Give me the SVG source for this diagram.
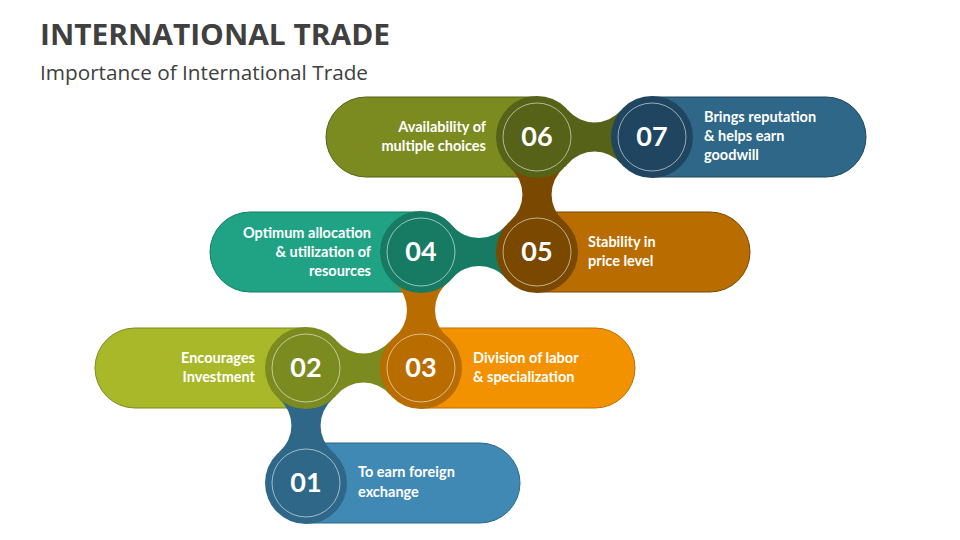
<svg xmlns="http://www.w3.org/2000/svg" width="960" height="540" viewBox="0 0 960 540">
<style>
.title{font-family:"Open Sans","Liberation Sans",sans-serif;font-weight:700;font-size:29px;fill:#404040}
.sub{font-family:"Open Sans","Liberation Sans",sans-serif;font-size:20px;fill:#404040}
.lbl{font-family:Lato,"Open Sans",sans-serif;font-weight:700;font-size:14.5px;fill:#ffffff}
.num{font-family:Lato,"Open Sans",sans-serif;font-weight:700;font-size:27px;fill:#ffffff;text-anchor:middle}
.ring{fill:none;stroke:#ffffff;stroke-opacity:0.55;stroke-width:1}
.r{text-anchor:end}
</style>
<rect width="960" height="540" fill="#ffffff"/>
<text class="title" x="40" y="45" textLength="350" lengthAdjust="spacingAndGlyphs">INTERNATIONAL TRADE</text>
<text class="sub" x="40" y="80" textLength="328" lengthAdjust="spacingAndGlyphs">Importance of International Trade</text>

<g id="pills">
<path id="pill01" d="M306,443 H480 A40,40 0 0 1 480,523 H306 Z" fill="#4089b5" stroke="#2e6787"/>
<path id="pill02" d="M306,328 H135 A40,40 0 0 0 135,408 H306 Z" fill="#a9b828" stroke="#7b8b1f"/>
<path id="pill03" d="M421,328 H595 A40,40 0 0 1 595,408 H421 Z" fill="#f39200" stroke="#b96c00"/>
<path id="pill04" d="M421,212 H250 A40,40 0 0 0 250,292 H421 Z" fill="#1fa384" stroke="#177b64"/>
<path id="pill05" d="M537,212 H710 A40,40 0 0 1 710,292 H537 Z" fill="#b96c00" stroke="#7b4800"/>
<path id="pill06" d="M537,97 H366 A40,40 0 0 0 366,177 H537 Z" fill="#7b8b1f" stroke="#566217"/>
<path id="pill07" d="M652,97 H826 A40,40 0 0 1 826,177 H652 Z" fill="#2e6787" stroke="#1f4560"/>
</g>

<g id="connectors">
<path d="M279.3,452 A35,35 0 0 0 279.3,399 L332.7,399 A35,35 0 0 0 332.7,452 Z" fill="#2e6787"/>
<path d="M337,341.3 A35,35 0 0 0 390,341.3 L390,394.7 A35,35 0 0 0 337,394.7 Z" fill="#7b8b1f"/>
<path d="M394.3,337 A35,35 0 0 0 394.3,283 L447.7,283 A35,35 0 0 0 447.7,337 Z" fill="#b96c00"/>
<path d="M452,225.3 A35,35 0 0 0 506,225.3 L506,278.7 A35,35 0 0 0 452,278.7 Z" fill="#177b64"/>
<path d="M510.3,221 A35,35 0 0 0 510.3,168 L563.7,168 A35,35 0 0 0 563.7,221 Z" fill="#7b4800"/>
<path d="M568,110.3 A35,35 0 0 0 621,110.3 L621,163.7 A35,35 0 0 0 568,163.7 Z" fill="#566217"/>
</g>

<g id="node01">
<circle cx="306" cy="483" r="41" fill="#2e6787"/>
<circle class="ring" cx="306" cy="483" r="34"/>
<text class="num" x="306" y="492">01</text>
<text class="lbl" x="358" y="477">To earn foreign</text>
<text class="lbl" x="358" y="497">exchange</text>
</g>
<g id="node02">
<circle cx="306" cy="368" r="41" fill="#7b8b1f"/>
<circle class="ring" cx="306" cy="368" r="34"/>
<text class="num" x="306" y="377">02</text>
<text class="lbl r" x="255" y="363">Encourages</text>
<text class="lbl r" x="255" y="382">Investment</text>
</g>
<g id="node03">
<circle cx="421" cy="368" r="41" fill="#b96c00"/>
<circle class="ring" cx="421" cy="368" r="34"/>
<text class="num" x="421" y="377">03</text>
<text class="lbl" x="473" y="363">Division of labor</text>
<text class="lbl" x="473" y="382">&amp; specialization</text>
</g>
<g id="node04">
<circle cx="421" cy="252" r="41" fill="#177b64"/>
<circle class="ring" cx="421" cy="252" r="34"/>
<text class="num" x="421" y="261">04</text>
<text class="lbl r" x="371" y="238">Optimum allocation</text>
<text class="lbl r" x="371" y="257">&amp; utilization of</text>
<text class="lbl r" x="371" y="276">resources</text>
</g>
<g id="node05">
<circle cx="537" cy="252" r="41" fill="#7b4800"/>
<circle class="ring" cx="537" cy="252" r="34"/>
<text class="num" x="537" y="261">05</text>
<text class="lbl" x="588" y="247">Stability in</text>
<text class="lbl" x="588" y="266">price level</text>
</g>
<g id="node06">
<circle cx="537" cy="137" r="41" fill="#566217"/>
<circle class="ring" cx="537" cy="137" r="34"/>
<text class="num" x="537" y="146">06</text>
<text class="lbl r" x="486" y="132">Availability of</text>
<text class="lbl r" x="486" y="151">multiple choices</text>
</g>
<g id="node07">
<circle cx="652" cy="137" r="41" fill="#1f4560"/>
<circle class="ring" cx="652" cy="137" r="34"/>
<text class="num" x="652" y="146">07</text>
<text class="lbl" x="704" y="122">Brings reputation</text>
<text class="lbl" x="704" y="141">&amp; helps earn</text>
<text class="lbl" x="704" y="160">goodwill</text>
</g>
</svg>
